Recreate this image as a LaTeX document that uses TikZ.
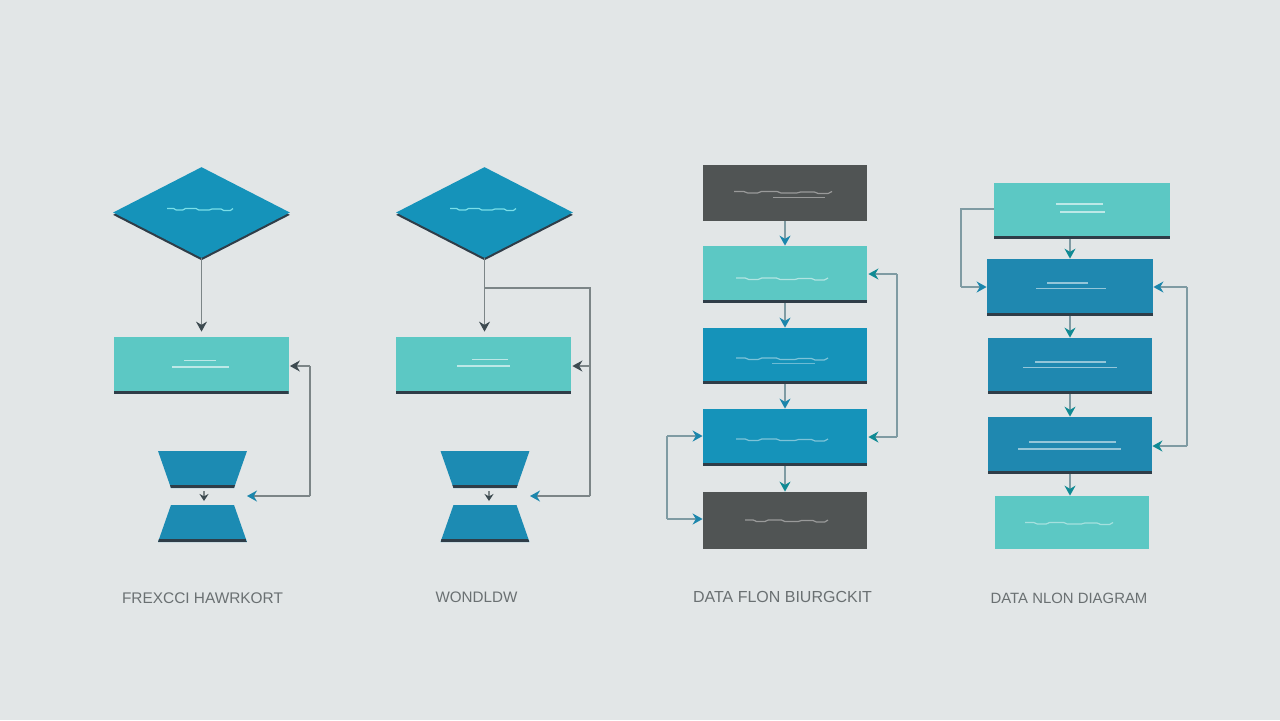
\documentclass[tikz,border=0pt]{standalone}
\usepackage{fontspec}
\setmainfont{Liberation Sans}
\usetikzlibrary{arrows.meta,shapes.geometric,calc}
\definecolor{bgc}{HTML}{E2E6E7}
\definecolor{tealc}{HTML}{5CC8C4}
\definecolor{bluea}{HTML}{1593BA}
\definecolor{blueb}{HTML}{1F88B0}
\definecolor{darkc}{HTML}{505454}
\definecolor{edgec}{HTML}{2F3D48}
\definecolor{linec}{HTML}{7C8587}
\definecolor{lineb}{HTML}{7F9BA3}
\definecolor{headd}{HTML}{3D4A50}
\definecolor{headb}{HTML}{1B86AC}
\definecolor{headt}{HTML}{0F8A94}
\definecolor{labelc}{HTML}{6A7072}
\tikzset{
  basebox/.style={rectangle,draw=none,inner sep=0pt,minimum width=#1},
  stripe/.style={path picture={\fill[edgec] ([yshift=1.5pt]path picture bounding box.south west) rectangle (path picture bounding box.south east);}},
  tealbox/.style={basebox=#1,fill=tealc},
  blueboxa/.style={basebox=#1,fill=bluea},
  blueboxb/.style={basebox=#1,fill=blueb},
  darkbox/.style={basebox=#1,fill=darkc},
  dia/.style={diamond,draw=none,inner sep=0pt,fill=bluea,minimum width=88.5pt,minimum height=45.5pt,
    preaction={fill=edgec,transform canvas={yshift=-1.2pt}}},
  trapup/.style={trapezium,draw=none,inner sep=0pt,fill=blueb!70!bluea,trapezium stretches=true,
    trapezium angle=79,minimum width=44.5pt,minimum height=18.5pt,stripe},
  conn/.style={draw=linec,line width=.75pt,-{Stealth[length=5pt,width=5.5pt,color=#1]},shorten >=.5pt},
  conn/.default=headd,
  plain/.style={draw=linec,line width=.75pt},
  connb/.style={draw=lineb,line width=.75pt,-{Stealth[length=5pt,width=5.5pt,color=#1]}},
  connb/.default=headb,
  plainb/.style={draw=lineb,line width=.75pt},
  caption/.style={text=labelc,inner sep=0pt},
  tl/.style={line width=.6pt,line join=round,opacity=.75},
}
\newcommand{\wig}[4]{\draw[tl,#4] (#1,#2) -- ++({#3*.1},0) -- ++({#3*.04},1.5) -- ++({#3*.1},0) -- ++({#3*.04},-1.5) -- ++({#3*.16},0) -- ++({#3*.04},1.5) -- ++({#3*.16},0) -- ++({#3*.04},-1) -- ++({#3*.14},0) -- ++({#3*.04},1.5) -- ++({#3*.1},0) -- ++({#3*.04},-2);}
\begin{document}
\begin{tikzpicture}[x=0.5pt,y=-0.5pt]
\useasboundingbox[fill=bgc] (0,0) rectangle (1280,720);

% column 1
\node[dia] (d1) at (201.5,212.5) {};
\node[tealbox=87.5pt,minimum height=28.5pt,stripe] (t1) at (201,365.5) {};
\node[trapup,shape border rotate=180] (u1) at (202.5,469.5) {\phantom{x}};
\node[trapup] (l1) at (202.5,523.5) {\phantom{x}};
\coordinate (c1a) at (310,366);
\coordinate (c1b) at (310,496);
\draw[conn] (d1.south) -- ([yshift=2pt]d1.south |- t1.north);
\draw[conn] (c1a) -- (t1.east |- c1a);
\draw[plain] (c1a) -- (c1b);
\draw[conn=headb] (c1b) -- (246,496);
\draw[line width=.6pt,draw=linec,-{Stealth[length=3.5pt,width=4.5pt,color=headd]}] (204,491) -- (204,501);

% column 2
\node[dia] (d2) at (484.5,212.5) {};
\node[tealbox=87.5pt,minimum height=28.5pt,stripe] (t2) at (483.5,365.5) {};
\node[trapup,shape border rotate=180] (u2) at (485,469.5) {\phantom{x}};
\node[trapup] (l2) at (485,523.5) {\phantom{x}};
\coordinate (c2j) at (484.5,288);
\coordinate (c2a) at (590,288);
\coordinate (c2m) at (590,366);
\coordinate (c2b) at (590,496);
\draw[conn] (d2.south) -- ([yshift=2pt]d2.south |- t2.north);
\draw[plain] (c2j) -- (c2a) -- (c2b);
\draw[conn] (c2m) -- (t2.east |- c2m);
\draw[conn=headb] (c2b) -- (529,496);
\draw[line width=.6pt,draw=linec,-{Stealth[length=3.5pt,width=4.5pt,color=headd]}] (489,491) -- (489,501);

% column 3
\node[darkbox=82pt,minimum height=28pt] (a1) at (785,193) {};
\node[tealbox=82pt,minimum height=28.5pt,stripe] (a2) at (785,274.5) {};
\node[blueboxa=82pt,minimum height=28pt,stripe] (a3) at (785,356) {};
\node[blueboxa=82pt,minimum height=28.5pt,stripe] (a4) at (785,437.5) {};
\node[darkbox=82pt,minimum height=28.5pt] (a5) at (785,520.5) {};
\draw[connb] (a1) -- (a2);
\draw[connb] (a2) -- (a3);
\draw[connb] (a3) -- (a4);
\draw[connb=headt] (a4) -- (a5);
\coordinate (c3r1) at (897,274);
\coordinate (c3r2) at (897,437);
\coordinate (c3l1) at (667,436);
\coordinate (c3l2) at (667,519);
\draw[connb=headt] (c3r1) -- ([xshift=.5pt]a2.east |- c3r1);
\draw[plainb] (c3r1) -- (c3r2);
\draw[connb=headt] (c3r2) -- ([xshift=.5pt]a4.east |- c3r2);
\draw[connb] (c3l1) -- (a4.west |- c3l1);
\draw[plainb] (c3l1) -- (c3l2);
\draw[connb] (c3l2) -- (a5.west |- c3l2);

% column 4
\node[tealbox=88pt,minimum height=28pt,stripe] (b1) at (1082,211) {};
\node[blueboxb=83pt,minimum height=28.5pt,stripe] (b2) at (1070,287.5) {};
\node[blueboxb=82pt,minimum height=28pt,stripe] (b3) at (1070,366) {};
\node[blueboxb=82pt,minimum height=28.5pt,stripe] (b4) at (1070,445.5) {};
\node[tealbox=77pt,minimum height=26.5pt] (b5) at (1072,522.5) {};
\draw[connb=headt] (b1.south -| b2) -- (b2);
\draw[connb=headt] (b2) -- (b3);
\draw[connb=headt] (b3) -- (b4);
\draw[connb=headt] (b4) -- (b5.north -| b4);
\coordinate (c4l1) at (961,209);
\coordinate (c4l2) at (961,287);
\coordinate (c4r1) at (1187,287);
\coordinate (c4r2) at (1187,446);
\draw[plainb] (b1.west |- c4l1) -- (c4l1) -- (c4l2);
\draw[connb] (c4l2) -- (b2.west |- c4l2);
\draw[connb] (c4r1) -- (b2.east |- c4r1);
\draw[plainb] (c4r1) -- (c4r2);
\draw[connb=headt] (c4r2) -- (b4.east |- c4r2);

% unreadable inner lettering
\wig{167}{208.5}{66}{draw=bgc!40!cyan!60!white}
\wig{450}{208.5}{66}{draw=bgc!40!cyan!60!white}
\draw[tl,draw=white!80!tealc] (184,360.5) -- (216,360.5) (172,367) -- (229,367);
\draw[tl,draw=white!80!tealc] (472,359.5) -- (508,359.5) (457,366) -- (510,366);
\wig{734}{191.5}{98}{draw=gray!60!white}
\draw[tl,draw=gray!60!white] (773,197.5) -- (825,197.5);
\wig{736}{278}{92}{draw=white!70!tealc}
\wig{736}{358}{92}{draw=white!60!bluea}
\draw[tl,draw=white!50!bluea] (772,363.5) -- (815,363.5);
\wig{736}{439}{92}{draw=white!60!bluea}
\wig{745}{520}{83}{draw=gray!60!white}
\draw[tl,draw=white!80!tealc] (1056,204) -- (1103,204) (1060,212) -- (1105,212);
\draw[tl,draw=white!70!blueb] (1047,283) -- (1088,283) (1036,288.5) -- (1106,288.5);
\draw[tl,draw=white!70!blueb] (1035,362) -- (1106,362) (1023,367.5) -- (1117,367.5);
\draw[tl,draw=white!70!blueb] (1029,442) -- (1116,442) (1018,449) -- (1121,449);
\wig{1025}{522.5}{88}{draw=white!60!tealc}

% captions
\node[caption,font=\fontsize{7.7}{9}\selectfont] (n1) at (202.5,598) {FREXCCI HAWRKORT};
\node[caption,font=\fontsize{7.6}{9}\selectfont] (n2) at (476.5,597.5) {WONDLDW};
\node[caption,font=\fontsize{8}{9}\selectfont] (n3) at (782.5,597) {DATA FLON BIURGCKIT};
\node[caption,font=\fontsize{7.45}{9}\selectfont] (n4) at (1069,598) {DATA NLON DIAGRAM};
\end{tikzpicture}
\end{document}
